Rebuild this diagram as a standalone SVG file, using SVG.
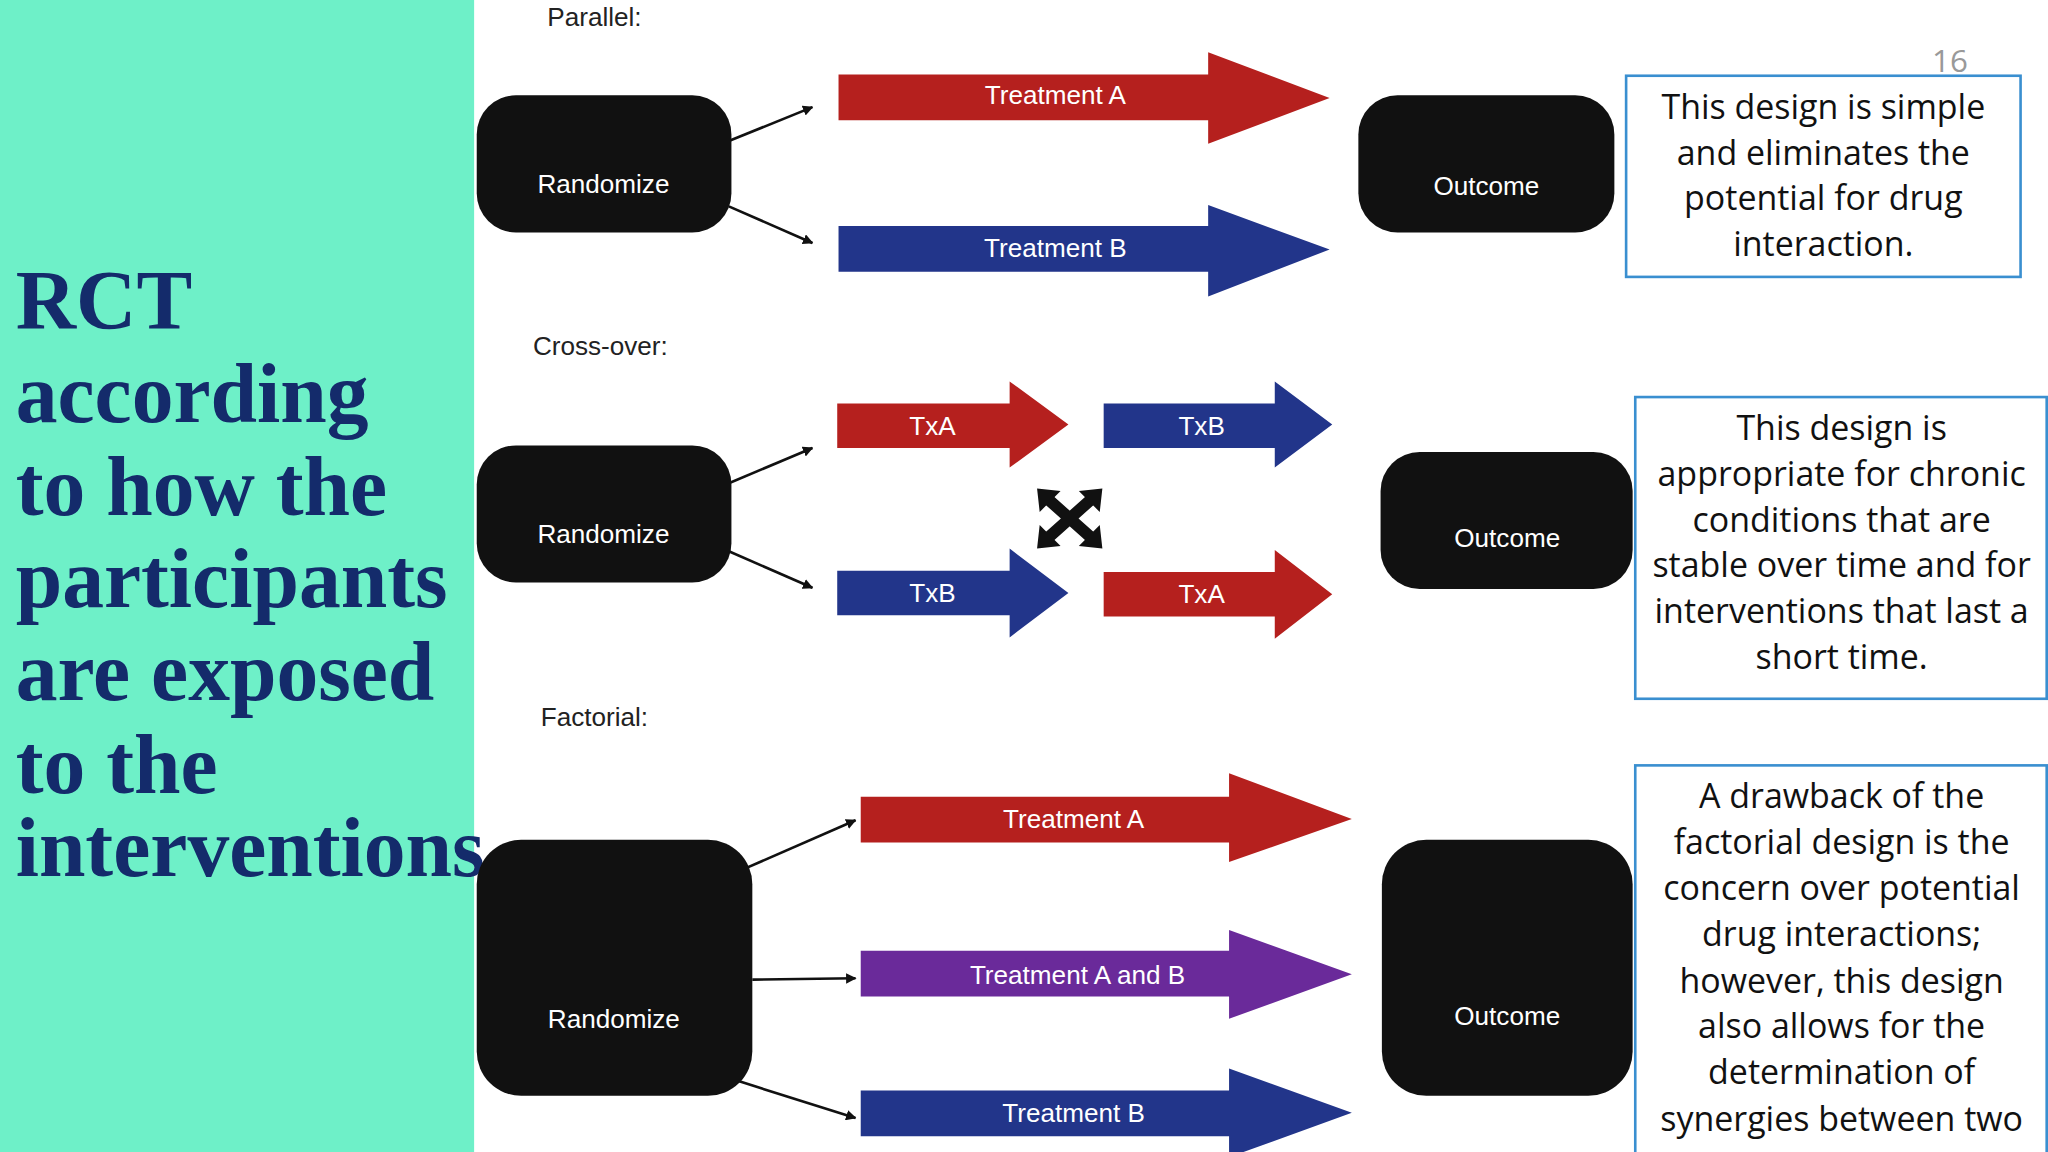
<svg xmlns="http://www.w3.org/2000/svg" width="2048" height="1152" viewBox="0 0 2048 1152">
<defs>
<style>
.lbl{font-family:"Liberation Sans",Arial,sans-serif;font-size:20px;fill:#222}
.w{font-family:"Liberation Sans",Arial,sans-serif;font-size:20px;fill:#fff;text-anchor:middle}
.box{fill:#111}
.note{fill:#fff;stroke:#3a8fd0;stroke-width:2}
.nt{font-family:"Open Sans","Noto Sans",sans-serif;font-size:26px;fill:#111;text-anchor:middle}
.ttl{font-family:"Liberation Serif","Times New Roman",serif;font-weight:bold;font-size:64px;fill:#142b6b}
.thin{stroke:#111;stroke-width:2;fill:none;marker-end:url(#ah)}
.red{fill:#b5201e}.blue{fill:#22358a}.purple{fill:#6a2a9a}
</style>
<marker id="ah" viewBox="0 0 10 10" refX="9" refY="5" markerWidth="8" markerHeight="8" orient="auto" markerUnits="userSpaceOnUse"><path d="M0,0L10,5L0,10z" fill="#111"/></marker>
</defs>
<rect width="2048" height="1152" fill="#fff"/>
<g transform="scale(1.30612)">
<g id="title">
<rect x="0" y="0" width="363" height="882" fill="#6ef0c8"/>
<text class="ttl"><tspan x="12" y="252">RCT</tspan><tspan x="12" y="323">according</tspan><tspan x="12" y="394">to how the</tspan><tspan x="12" y="465">participants</tspan><tspan x="12" y="536">are exposed</tspan><tspan x="12" y="607">to the</tspan><tspan x="12" y="671">interventions</tspan></text>
</g>
<text x="1493" y="55" font-family="Open Sans,sans-serif" font-size="24" fill="#999" text-anchor="middle">16</text>
<text class="lbl" x="419" y="20">Parallel:</text>
<text class="lbl" x="408" y="272">Cross-over:</text>
<text class="lbl" x="414" y="556">Factorial:</text>
<g id="connectors">
<line class="thin" x1="558" y1="108" x2="622" y2="82"/>
<line class="thin" x1="558" y1="158" x2="622" y2="186"/>
<line class="thin" x1="558" y1="370" x2="622" y2="343"/>
<line class="thin" x1="558" y1="422" x2="622" y2="450"/>
<line class="thin" x1="568" y1="666" x2="655" y2="628"/>
<line class="thin" x1="576" y1="750" x2="655" y2="749"/>
<line class="thin" x1="560" y1="826" x2="655" y2="856"/>
</g>
<g id="rand1"><rect class="box" x="365" y="73" width="195" height="105" rx="30"/><text class="w" x="462" y="148">Randomize</text></g>
<g id="out1"><rect class="box" x="1040" y="73" width="196" height="105" rx="30"/><text class="w" x="1138" y="149">Outcome</text></g>
<g id="p-ta"><path class="red" d="M642,57H925V40L1018,75L925,110V92H642z"/><text class="w" x="808" y="80">Treatment A</text></g>
<g id="p-tb"><path class="blue" d="M642,173H925V157L1018,191L925,227V208H642z"/><text class="w" x="808" y="197">Treatment B</text></g>
<g id="note1"><rect class="note" x="1245" y="58" width="302" height="154"/><text class="nt"><tspan x="1396" y="91">This design is simple</tspan><tspan x="1396" y="126">and eliminates the</tspan><tspan x="1396" y="161">potential for drug</tspan><tspan x="1396" y="196">interaction.</tspan></text></g>
<g id="rand2"><rect class="box" x="365" y="341" width="195" height="105" rx="30"/><text class="w" x="462" y="416">Randomize</text></g>
<g id="out2"><rect class="box" x="1057" y="346" width="193" height="105" rx="30"/><text class="w" x="1154" y="419">Outcome</text></g>
<g id="c-txa1"><path class="red" d="M641,309H773V292L818,325L773,358V343H641z"/><text class="w" x="714" y="333">TxA</text></g>
<g id="c-txb1"><path class="blue" d="M845,309H976V292L1020,325L976,358V343H845z"/><text class="w" x="920" y="333">TxB</text></g>
<g id="c-txb2"><path class="blue" d="M641,437H773V420L818,454L773,488V471H641z"/><text class="w" x="714" y="461">TxB</text></g>
<g id="c-txa2"><path class="red" d="M845,438H976V421L1020,455L976,489V472H845z"/><text class="w" x="920" y="462">TxA</text></g>
<g id="cross"><path d="M800,380L838,414M838,380L800,414" stroke="#111" stroke-width="9"/><path d="M794,374l18,2l-16,16zM844,374l-18,2l16,16zM794,420l18,-2l-16,-16zM844,420l-18,-2l16,-16z" fill="#111"/></g>
<g id="note2"><rect class="note" x="1252" y="304" width="315" height="231"/><text class="nt"><tspan x="1410" y="337">This design is</tspan><tspan x="1410" y="372">appropriate for chronic</tspan><tspan x="1410" y="407">conditions that are</tspan><tspan x="1410" y="442">stable over time and for</tspan><tspan x="1410" y="477">interventions that last a</tspan><tspan x="1410" y="512">short time.</tspan></text></g>
<g id="rand3"><rect class="box" x="365" y="643" width="211" height="196" rx="34"/><text class="w" x="470" y="787">Randomize</text></g>
<g id="out3"><rect class="box" x="1058" y="643" width="192" height="196" rx="34"/><text class="w" x="1154" y="785">Outcome</text></g>
<g id="f-ta"><path class="red" d="M659,610H941V592L1035,627L941,660V645H659z"/><text class="w" x="822" y="634">Treatment A</text></g>
<g id="f-tab"><path class="purple" d="M659,728H941V712L1035,746L941,780V763H659z"/><text class="w" x="825" y="753">Treatment A and B</text></g>
<g id="f-tb"><path class="blue" d="M659,835H941V818L1035,852L941,886V870H659z"/><text class="w" x="822" y="859">Treatment B</text></g>
<g id="note3"><rect class="note" x="1252" y="586" width="315" height="310"/><text class="nt"><tspan x="1410" y="619">A drawback of the</tspan><tspan x="1410" y="654">factorial design is the</tspan><tspan x="1410" y="689">concern over potential</tspan><tspan x="1410" y="724">drug interactions;</tspan><tspan x="1410" y="760">however, this design</tspan><tspan x="1410" y="795">also allows for the</tspan><tspan x="1410" y="830">determination of</tspan><tspan x="1410" y="866">synergies between two</tspan></text></g>
</g>
</svg>
